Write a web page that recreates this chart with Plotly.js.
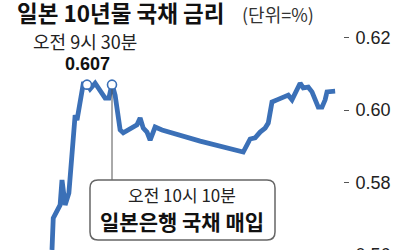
<!DOCTYPE html>
<html>
<head>
<meta charset="utf-8">
<script src="https://cdn.plot.ly/plotly-3.0.1.min.js"></script>
<style>
html, body { margin: 0; padding: 0; overflow: hidden; background: #fff; }
#chart { width: 400px; height: 270px; }
</style>
</head>
<body>
<div id="chart"></div>
<script>
// Time of day in minutes after midnight (09:30 = 570)
const times = [512,514,516,522,527,530,535,541,548,551,554,559,564,570,575,583,588,594,599,605,610,615,623,628,636,642,650,655,660,666,671,679,684,690,751,820,831,839,847,855,860,866,874,884,892,898,906,911,916,924,930,938,940,946,951,954,967];
// Japanese 10-year government bond yield (%)
const yields = [0.5581,0.5614,0.5702,0.5724,0.5738,0.5807,0.5738,0.5771,0.5917,0.5986,0.5972,0.6028,0.6072,0.6072,0.6058,0.6074,0.6061,0.6041,0.6033,0.6033,0.6072,0.6041,0.5945,0.5937,0.5945,0.5953,0.5959,0.5978,0.5950,0.5939,0.5917,0.5953,0.5950,0.5945,0.5914,0.5884,0.5920,0.5923,0.5939,0.5950,0.5964,0.6022,0.6028,0.6036,0.6041,0.6028,0.6061,0.6074,0.6061,0.6063,0.6050,0.6019,0.6008,0.6008,0.6028,0.6050,0.6052];
// Marked moments: 09:30 (0.607) and 10:10 (BOJ purchase)
const markTimes = [570, 610];
const markYields = [0.607, 0.607];
// Y tick labels
const yTickVals = [0.56, 0.58, 0.60, 0.62];
const yTickText = ['0.56', '0.58', '0.60', '0.62'];

const titleText = '일본 10년물 국채 금리';
const unitText = '(단위=%)';
const peakTimeText = '오전 9시 30분';
const peakValueText = '0.607';
const boxLine1 = '오전 10시 10분';
const boxLine2 = '일본은행 국채 매입';

// layout geometry helpers (pixel -> paper)
const W = 400, H = 270, mL = 0, mR = 57, mT = 30, mB = 5;
const pw = W - mL - mR, ph = H - mT - mB;
const px = x => (x - mL) / pw;
const py = y => (H - mB - y) / ph;

function roundRect(x0, y0, x1, y1, r) {
  const p = (x, y) => px(x).toFixed(5) + ',' + py(y).toFixed(5);
  return 'M' + p(x0 + r, y0) + ' L' + p(x1 - r, y0) +
    ' Q' + p(x1, y0) + ' ' + p(x1, y0 + r) +
    ' L' + p(x1, y1 - r) + ' Q' + p(x1, y1) + ' ' + p(x1 - r, y1) +
    ' L' + p(x0 + r, y1) + ' Q' + p(x0, y1) + ' ' + p(x0, y1 - r) +
    ' L' + p(x0, y0 + r) + ' Q' + p(x0, y0) + ' ' + p(x0 + r, y0) + ' Z';
}

const blue = '#3b70b7';
const kr = '"Noto Sans CJK KR", "Noto Sans", sans-serif';
const narrow = '"Liberation Sans Narrow", "Arial Narrow", "Liberation Sans", sans-serif';

const traces = [
  {
    x: times, y: yields, type: 'scatter', mode: 'lines',
    line: { color: blue, width: 4.8, shape: 'linear' },
    hoverinfo: 'skip', cliponaxis: true
  },
  {
    x: markTimes, y: markYields, type: 'scatter', mode: 'markers',
    marker: { symbol: 'circle', size: 9, color: '#ffffff', line: { color: blue, width: 1.6 } },
    hoverinfo: 'skip', cliponaxis: false
  }
];

const layout = {
  width: W, height: H,
  margin: { l: mL, r: mR, t: mT, b: mB, pad: 0 },
  paper_bgcolor: '#ffffff', plot_bgcolor: '#ffffff',
  showlegend: false,
  title: {
    text: '<b>' + titleText + '</b>',
    font: { family: kr, size: 22.5, color: '#111111' },
    xref: 'container', yref: 'container',
    x: 17 / W, xanchor: 'left', y: 1 - 14 / H, yanchor: 'middle'
  },
  xaxis: {
    range: [430.8, 979.6], visible: false, fixedrange: true
  },
  yaxis: {
    side: 'right', range: [0.55724, 0.62207],
    tickvals: yTickVals, ticktext: yTickText,
    ticks: 'outside', ticklen: 5, tickwidth: 1, tickcolor: '#555555',
    ticklabelstandoff: 3,
    tickfont: { family: narrow, size: 18, color: '#222222' },
    showgrid: false, zeroline: false, showline: false, fixedrange: true
  },
  shapes: [
    {
      type: 'line', xref: 'x', yref: 'y',
      x0: markTimes[1], x1: markTimes[1], y0: markYields[1] - 0.0012, y1: 0.5807,
      line: { color: '#555555', width: 1 }
    },
    {
      type: 'path', xref: 'paper', yref: 'paper',
      path: roundRect(90, 180, 275, 240, 8),
      fillcolor: '#ffffff', line: { color: '#666666', width: 1.5 }
    }
  ],
  annotations: [
    { text: unitText, xref: 'paper', yref: 'paper', x: px(241), y: py(14), xanchor: 'left', yanchor: 'middle',
      showarrow: false, borderpad: 0, font: { family: kr, size: 18, color: '#333333' } },
    { text: peakTimeText, xref: 'paper', yref: 'paper', x: px(85), y: py(41), xanchor: 'center', yanchor: 'middle',
      showarrow: false, borderpad: 0, font: { family: kr, size: 18, color: '#222222' } },
    { text: '<b>' + peakValueText + '</b>', xref: 'paper', yref: 'paper', x: px(87), y: py(64), xanchor: 'center', yanchor: 'middle',
      showarrow: false, borderpad: 0, font: { family: narrow, size: 18, color: '#111111' } },
    { text: boxLine1, xref: 'paper', yref: 'paper', x: px(182), y: py(194), xanchor: 'center', yanchor: 'middle',
      showarrow: false, borderpad: 0, font: { family: kr, size: 17, color: '#222222' } },
    { text: '<b>' + boxLine2 + '</b>', xref: 'paper', yref: 'paper', x: px(182), y: py(221), xanchor: 'center', yanchor: 'middle',
      showarrow: false, borderpad: 0, font: { family: kr, size: 21, color: '#111111' } }
  ]
};

Plotly.newPlot('chart', traces, layout, { displayModeBar: false, staticPlot: true });
</script>
</body>
</html>
